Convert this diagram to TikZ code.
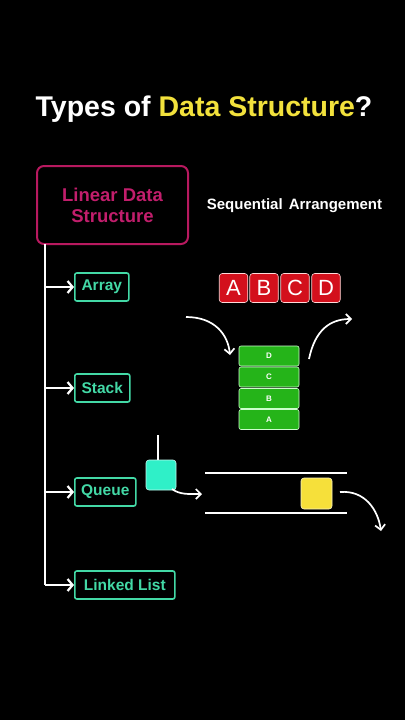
\documentclass[tikz,border=0pt]{standalone}
\usepackage{fontspec}
\setmainfont{Liberation Sans}
\usetikzlibrary{arrows.meta}
\definecolor{mag}{HTML}{B8195F}
\definecolor{magtxt}{HTML}{C21E6C}
\definecolor{teal}{HTML}{43D9A6}
\definecolor{ttl}{HTML}{F2E13C}
\definecolor{redbox}{HTML}{D3101C}
\definecolor{grn}{HTML}{25B419}
\definecolor{qsq}{HTML}{2FF0C8}
\definecolor{ysq}{HTML}{F6E03A}
\tikzset{
  kind/.style={draw=teal, line width=1.6pt, rounded corners=2pt, text=teal, font=\bfseries\fontsize{15.5}{17}\selectfont, anchor=west, inner sep=0pt, minimum height=28pt},
  letter/.style={draw=white!85!red, line width=0.6pt, fill=redbox, rounded corners=3pt, text=white, font=\fontsize{22}{23}\selectfont, minimum width=28.5pt, minimum height=29pt, inner sep=0pt},
  stk/.style={draw=white!80!green, line width=0.6pt, fill=grn, rounded corners=2pt, text=white, font=\bfseries\fontsize{8}{9}\selectfont, minimum width=60pt, minimum height=20pt, inner sep=0pt},
  branch/.style={draw=white, line width=2.4pt, -{Straight Barb[length=5pt,width=12pt,line width=2.2pt]}},
  curv/.style={draw=white, line width=1.7pt, -{Straight Barb[length=5pt,width=10pt,line width=1.7pt]}},
}
\begin{document}
\begin{tikzpicture}[x=1pt,y=-1pt]
\fill[black] (0,0) rectangle (405,720);
\useasboundingbox (0,0) rectangle (405,720);
% title
\node (title) at (204,109) {\fontsize{28.5}{30}\selectfont\bfseries \textcolor{white}{Types of }\textcolor{ttl}{Data Structure}\textcolor{white}{?}};
% main box
\node (lin) [draw=mag, line width=2pt, rounded corners=7pt, minimum width=151pt, minimum height=78pt, inner sep=0pt, text=magtxt, align=center, font=\bfseries\fontsize{18.5}{21}\selectfont] at (112.5,205) {Linear Data\\Structure};
\coordinate (top) at (45,244);
\coordinate (bot) at (45,585);
\draw[white, line width=2.4pt] (top) -- (bot);
% kinds
\node (arr) [kind, minimum width=54pt] at (74,287) {Array};
\node (stack) [kind, minimum width=55pt] at (74,388) {Stack};
\node (queue) [kind, minimum width=61pt] at (74,492) {Queue};
\node (ll) [kind, minimum width=100pt] at (74,585) {Linked List};
\coordinate (b1) at (45,287);
\coordinate (b2) at (45,388);
\coordinate (b3) at (45,492);
\coordinate (b4) at (45,585);
\draw[branch] (b1) -- (arr.west);
\draw[branch] (b2) -- (stack.west);
\draw[branch] (b3) -- (queue.west);
\draw[branch] (b4) -- (ll.west);
% sequential
\node (seq) at (294.5,206) {\textcolor{white}{\bfseries\fontsize{15}{17}\selectfont Sequential\hspace{6pt}Arrangement}};
\node (A) [letter] at (233.5,288) {A};
\node (B) [letter] at (264,288) {B};
\node (C) [letter] at (295,288) {C};
\node (D) [letter] at (326,288) {D};
% stack
\node (sD) [stk] at (269,356) {D};
\node (sC) [stk] at (269,377) {C};
\node (sB) [stk] at (269,398.5) {B};
\node (sA) [stk] at (269,419.5) {A};
\coordinate (in1) at (186,317);
\coordinate (in2) at (230,355);
\draw[curv] (in1) .. controls (215,317) and (228,335) .. (in2);
\coordinate (out1) at (309,359);
\coordinate (out2) at (352,319);
\draw[curv] (out1) .. controls (315,330) and (330,319) .. (out2);
% queue
\node (qs) [fill=qsq, draw=white!70!qsq, line width=0.6pt, rounded corners=3pt, minimum width=30pt, minimum height=30pt, inner sep=0pt] at (161,475) {};
\coordinate (qt) at (158,435);
\draw[white, line width=1.2pt] (qt) -- (qs.north -| qt);
\coordinate (qa) at (202,494);
\draw[curv] (172,489) .. controls (180,495) and (190,494) .. (qa);
\coordinate (l1a) at (205,473);
\coordinate (l1b) at (347,473);
\coordinate (l2a) at (205,513);
\coordinate (l2b) at (347,513);
\draw[white, line width=1.3pt] (l1a) -- (l1b);
\draw[white, line width=1.3pt] (l2a) -- (l2b);
\node (ys) [fill=ysq, draw=white!70!ysq, line width=0.6pt, rounded corners=3pt, minimum width=31pt, minimum height=31pt, inner sep=0pt] at (316.5,493.5) {};
\coordinate (yo1) at (340,492);
\coordinate (yo2) at (381,531);
\draw[curv] (yo1) .. controls (365,490) and (378,510) .. (yo2);
\end{tikzpicture}
\end{document}
